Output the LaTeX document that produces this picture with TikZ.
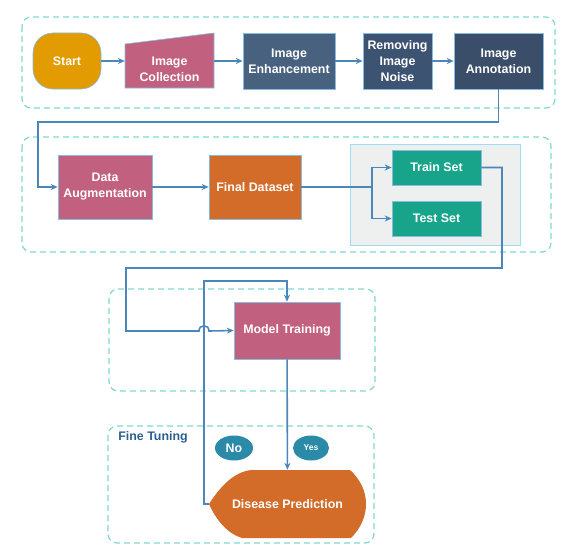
\documentclass[tikz,border=0pt]{standalone}
\usepackage{fontspec}
\setmainfont{Liberation Sans}
\usetikzlibrary{arrows.meta,shapes.geometric}

\definecolor{framec}{HTML}{7FD9CF}
\definecolor{linec}{HTML}{4B87BA}
\definecolor{edgec}{HTML}{86BCE0}
\definecolor{startc}{HTML}{E29B00}
\definecolor{pinkc}{HTML}{C2607F}
\definecolor{slatec}{HTML}{47617F}
\definecolor{navyc}{HTML}{3D5372}
\definecolor{darkc}{HTML}{3A4D69}
\definecolor{orangec}{HTML}{D36B29}
\definecolor{tealc}{HTML}{17A48A}
\definecolor{ovalc}{HTML}{2A8AA7}
\definecolor{panelc}{HTML}{EEF0EF}
\definecolor{paneledge}{HTML}{9EDDF2}
\definecolor{titlec}{HTML}{2C5F8E}

\begin{document}
\begin{tikzpicture}[x=1pt,y=-1pt,
  frame/.style={draw=framec,line width=1.2,dash pattern=on 6pt off 4pt,rounded corners=9},
  txt/.style={text=white,font=\bfseries\fontsize{12.4}{16}\selectfont,align=center,inner sep=0},
  box/.style={txt,draw=edgec,line width=0.6},
  oval/.style={txt,ellipse,fill=ovalc,minimum height=25},
  conn/.style={draw=linec,line width=1.6},
  arr/.style={conn,-{Stealth[length=7pt,width=6pt]}}]
\useasboundingbox (0,0) rectangle (569,551);

% dashed groups
\draw [frame] (22,17) rectangle (555,108);
\draw [frame] (22,137) rectangle (551,252);
\draw [frame] (109,289) rectangle (375,391);
\draw [frame] (108,426) rectangle (374,543);
\filldraw [fill=panelc,draw=paneledge,line width=1] (350,144) rectangle (520,245);

% odd shapes
\filldraw [fill=pinkc,draw=edgec,line width=0.6] (125,44) -- (214,33) -- (214,88) -- (125,88) -- cycle;
\fill [orangec] (209,504) .. controls (222,484) and (235,472) .. (251,470) -- (350,470)
  .. controls (361,480) and (366,492) .. (366,504) .. controls (366,516) and (361,528) .. (351,538)
  -- (242,538) .. controls (228,534) and (216,520) .. (209,504) -- cycle;

\node [box,fill=startc,rounded corners=20,minimum width=68,minimum height=56] (start) at (67,61) {Start};
\node [txt,minimum width=89,minimum height=55,label={[txt,yshift=-8]center:Image\\Collection}] (collect) at (169.5,61) {};
\node [box,fill=slatec,minimum width=92,minimum height=56] (enhance) at (289,61) {Image\\Enhancement};
\node [box,fill=navyc,minimum width=69,minimum height=56] (noise) at (397.5,61) {Removing\\Image\\Noise};
\node [box,fill=darkc,minimum width=89,minimum height=56] (annot) at (498.5,61) {Image\\Annotation};

\node [box,fill=pinkc,minimum width=94,minimum height=64] (augment) at (105,187) {Data\\Augmentation};
\node [box,fill=orangec,minimum width=92,minimum height=64] (final) at (255,187) {Final Dataset};
\node [box,fill=tealc,minimum width=89,minimum height=35] (train) at (436.5,167.5) {Train Set};
\node [box,fill=tealc,minimum width=89,minimum height=35] (test) at (436.5,218.5) {Test Set};

\node [box,fill=pinkc,minimum width=106,minimum height=57] (mtrain) at (287,330.5) {Model Training};
\node [txt,minimum width=157,minimum height=68] (predict) at (287.5,504) {Disease Prediction};
\node [txt,text=titlec] (tune) at (153,437) {Fine Tuning};
\node [oval,minimum width=38] (no) at (234,448) {No};
\node [oval,minimum width=36,font=\bfseries\fontsize{8.5}{10}\selectfont] (yes) at (311,448) {Yes};

\coordinate (turnA) at (38,122);
\coordinate (fork) at (372,187);
\coordinate (turnB) at (502,268);
\coordinate (turnC) at (126,268);
\coordinate (hopL) at (199,331);
\coordinate (hopR) at (209,331);
\coordinate (turnD) at (204,281);

\draw [arr] (start) -- (collect);
\draw [arr] (collect) -- (enhance);
\draw [arr] (enhance) -- (noise);
\draw [arr] (noise) -- (annot);
\draw [arr] (annot.south) |- (turnA) |- (augment.west);
\draw [arr] (augment) -- (final);
\draw [conn] (final) -- (fork);
\draw [arr] (fork) |- (train.west);
\draw [arr] (fork) |- (test.west);
\draw [arr] (train.east) -| (turnB) -- (turnC) |- (hopL)
  .. controls (199,324) and (209,324) .. (hopR) -- (mtrain.west);
\draw [arr] (predict.west) -| (turnD) -| (mtrain.north);
\draw [arr] (mtrain) -- (predict);
\end{tikzpicture}
\end{document}
